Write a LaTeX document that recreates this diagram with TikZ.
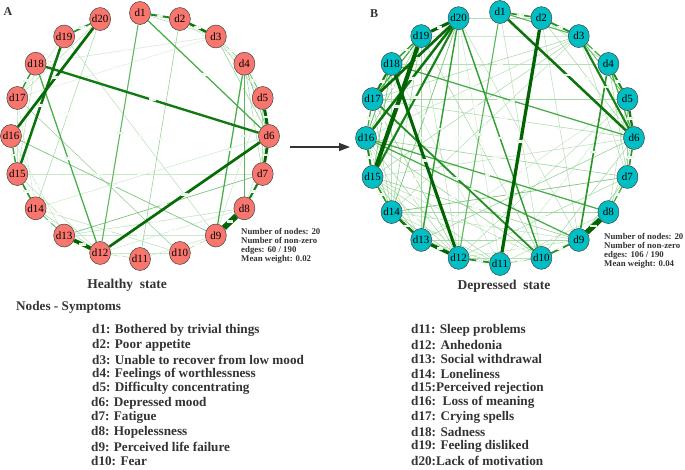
\documentclass[tikz,border=0pt]{standalone}
\usepackage{fontspec}
\setmainfont{Liberation Serif}
\usetikzlibrary{shapes.geometric,arrows.meta}
\pgfdeclarelayer{bg}
\pgfsetlayers{bg,main}
\definecolor{healthy}{HTML}{F8766D}
\definecolor{depr}{HTML}{00BFC4}
\definecolor{edgedark}{RGB}{0,100,0}
\definecolor{edgelight}{RGB}{50,165,50}
\definecolor{txtg}{HTML}{333333}
\tikzset{
  netnode/.style={ellipse, draw=black!75, line width=0.5pt, minimum width=21pt, minimum height=23pt, inner sep=0pt, font=\fontsize{11}{11}\selectfont},
  hnode/.style={netnode, fill=healthy},
  dnode/.style={netnode, fill=depr},
  elabel/.style={midway, fill=white, inner sep=0.2pt, font=\fontsize{3.6}{3.6}\selectfont},
  legend/.style={anchor=west, inner sep=0pt, text=txtg, font=\fontsize{13.2}{13.2}\selectfont\bfseries},
  stat/.style={anchor=west, inner sep=0pt, text=txtg, font=\fontsize{8.8}{8.8}\selectfont\bfseries},
  title/.style={inner sep=0pt, text=txtg, font=\fontsize{13.5}{13.5}\selectfont\bfseries},
  panel/.style={inner sep=0pt, text=txtg, font=\fontsize{12}{12}\selectfont\bfseries}
}
\newcommand{\nl}[1]{\makebox[8pt]{#1}}
\newcommand{\edgeset}[2]{%
  \foreach \a/\b/\w in {#2}{%
    \pgfmathsetmacro\lw{max(0.5,(\w-0.03)*18)}%
    \pgfmathtruncatemacro\pc{min(100,\w*900)}%
    \pgfmathtruncatemacro\pd{max(0,min(100,(\w-0.1)*1100))}%
    \pgfmathtruncatemacro\pt{max(20,\pc*0.5)}%
    \draw[line width=\lw pt, draw=edgedark!\pd!edgelight!\pc!white] (#1\a) -- (#1\b) node[elabel, text=edgelight!\pt!white]{\w};
  }%
}
\begin{document}
\begin{tikzpicture}[x=1pt,y=-1pt]
\useasboundingbox (0,0) rectangle (685,469);

\foreach \i in {1,...,20}{
  \pgfmathsetmacro\ang{90-18*(\i-1)}
  \node[hnode] (L\i) at ({140+129*cos(\ang)},{136-123*sin(\ang)}) {\nl{d\i}};
  \node[dnode] (R\i) at ({500+134*cos(\ang)},{138-126*sin(\ang)}) {\nl{d\i}};
}

\begin{pgfonlayer}{bg}
\fill[white] (0,0) rectangle (685,469);
\edgeset{L}{17/3/0.02, 19/9/0.04, 18/3/0.03, 2/4/0.03, 1/3/0.04, 5/7/0.04, 14/6/0.03, 15/7/0.03,
 13/8/0.04, 14/10/0.04, 16/13/0.03, 17/14/0.03, 18/15/0.04, 17/15/0.03, 13/9/0.03, 12/8/0.03,
 11/9/0.03, 19/17/0.03, 20/17/0.04, 12/10/0.03, 15/12/0.04, 5/9/0.03, 6/8/0.04, 20/14/0.05,
 14/12/0.05, 3/5/0.05, 4/7/0.05, 17/10/0.06, 3/6/0.06, 3/4/0.06, 4/6/0.07, 13/7/0.07, 16/9/0.07,
 2/11/0.06, 11/12/0.05, 9/10/0.05, 4/5/0.08, 14/13/0.08, 1/12/0.09, 4/8/0.09, 1/6/0.1, 4/9/0.1,
 18/12/0.1, 16/15/0.11, 18/17/0.11, 15/14/0.12, 19/20/0.12, 1/2/0.14, 7/8/0.15, 18/6/0.16,
 2/3/0.17, 19/15/0.17, 20/16/0.18, 12/6/0.18, 6/7/0.19, 5/6/0.2, 12/13/0.24, 8/9/0.35}
\edgeset{R}{19/3/0.03, 20/12/0.03, 13/5/0.03, 11/5/0.03, 18/11/0.03, 20/11/0.03,
 18/4/0.04, 20/2/0.04, 16/3/0.04, 14/3/0.04, 12/5/0.04, 20/9/0.04, 19/12/0.04, 14/9/0.04,
 12/10/0.04, 15/6/0.04, 18/14/0.04, 16/13/0.04, 5/8/0.04, 3/7/0.04, 2/9/0.04, 1/10/0.04,
 15/10/0.04, 14/11/0.04, 12/9/0.04, 11/8/0.04,
 3/15/0.05, 14/8/0.05, 12/7/0.05, 13/9/0.05, 17/6/0.05, 19/13/0.05, 17/14/0.05, 2/6/0.05,
 2/4/0.05, 6/8/0.05, 4/7/0.05, 19/10/0.05, 15/11/0.05, 13/11/0.05, 17/5/0.05, 17/3/0.05,
 10/6/0.05, 16/12/0.05, 15/12/0.05,
 15/9/0.06, 13/6/0.06, 19/14/0.06, 16/14/0.06, 15/13/0.06, 19/16/0.06, 5/7/0.06, 7/9/0.06,
 16/10/0.06, 16/7/0.06, 17/12/0.06, 14/12/0.06,
 20/14/0.07, 14/7/0.07, 11/10/0.07, 18/15/0.07, 18/16/0.08, 3/5/0.08,
 1/12/0.09, 1/3/0.09, 16/9/0.1, 18/6/0.1, 16/17/0.1, 7/8/0.1, 3/4/0.1, 16/8/0.1, 19/17/0.1,
 4/6/0.1, 20/10/0.11, 20/13/0.11, 18/19/0.11, 4/9/0.12, 6/7/0.12, 14/15/0.12, 1/2/0.12,
 2/3/0.13, 17/10/0.13, 11/12/0.13, 9/10/0.13, 15/16/0.14, 4/5/0.14, 3/6/0.15, 17/18/0.15,
 20/15/0.15, 5/6/0.16, 1/6/0.17, 20/16/0.17, 13/14/0.17, 20/17/0.18, 18/12/0.2, 20/19/0.2,
 2/11/0.21, 12/13/0.22, 19/15/0.26, 8/9/0.33}
\end{pgfonlayer}

\node[panel] (pA) at (8,12) {A};
\node[panel] (pB) at (374,14) {B};

\coordinate (arrS) at (290,147);
\coordinate (arrE) at (350,147);
\draw[line width=1.5pt, draw=black!80, -{Triangle[length=11pt,width=8pt]}] (arrS) -- (arrE);

\node[stat] (s1) at (241,231) {Number of nodes: 20};
\node[stat] (s2) at (241,240.5) {Number of non-zero};
\node[stat] (s3) at (241,250) {edges: 60 / 190};
\node[stat] (s4) at (241,259.5) {Mean weight: 0.02};
\node[stat] (t1) at (604,236) {Number of nodes: 20};
\node[stat] (t2) at (604,245.5) {Number of non-zero};
\node[stat] (t3) at (604,255) {edges: 106 / 190};
\node[stat] (t4) at (604,264.5) {Mean weight: 0.04};

\node[title] (hs) at (127,285) {Healthy~~state};
\node[title] (ds) at (504,286) {Depressed~~state};

\node[legend] (ns) at (16,307) {Nodes - Symptoms};
\node[legend] (l1) at (92,330.5) {d1: Bothered by trivial things};
\node[legend] (l2) at (92,345) {d2: Poor appetite};
\node[legend] (l3) at (92,359.5) {d3: Unable to recover from low mood};
\node[legend] (l4) at (92,374) {d4: Feelings of worthlessness};
\node[legend] (l5) at (92,388.5) {d5: Difficulty concentrating};
\node[legend] (l6) at (91,403) {d6: Depressed mood};
\node[legend] (l7) at (91,417.5) {d7: Fatigue};
\node[legend] (l8) at (91,432) {d8: Hopelessness};
\node[legend] (l9) at (91,446.5) {d9: Perceived life failure};
\node[legend] (l10) at (91,461) {d10: Fear};
\node[legend] (l11) at (411,330) {d11: Sleep problems};
\node[legend] (l12) at (411,344.6) {d12: Anhedonia};
\node[legend] (l13) at (411,359.1) {d13: Social withdrawal};
\node[legend] (l14) at (411,373.7) {d14: Loneliness};
\node[legend] (l15) at (411,388.2) {d15:Perceived rejection};
\node[legend] (l16) at (411,402.8) {d16:~~Loss of meaning};
\node[legend] (l17) at (411,417.3) {d17: Crying spells};
\node[legend] (l18) at (411,431.9) {d18: Sadness};
\node[legend] (l19) at (411,446.4) {d19: Feeling disliked};
\node[legend] (l20) at (411,461) {d20:Lack of motivation};
\end{tikzpicture}
\end{document}
